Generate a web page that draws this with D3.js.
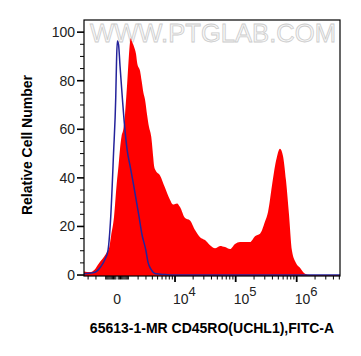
<!DOCTYPE html>
<html>
<head>
<meta charset="utf-8">
<script src="https://cdn.jsdelivr.net/npm/d3@7"></script>
<style>
  body { margin: 0; background: #fff; }
  svg text { font-family: "Liberation Sans", Arial, sans-serif; }
</style>
</head>
<body>
<svg id="chart" width="361" height="356"></svg>
<script>
// stained sample (red, filled) - fluorescence value / relative count
const sampleX = [-3620, -2737, -2231, -1664, -1158, -877, -695, -518, -257, -26, 128, 257, 387, 544, 695, 877,
  1016, 1158, 1226, 1353, 1557, 1769, 1913, 2231, 2420, 2653, 2882, 3160, 3447, 3810, 4134, 4306, 4613,
  5524, 6736, 8215, 9256, 10808, 12130, 14685, 17761, 21487, 25982, 31390, 37921, 45814, 55339, 66906,
  80740, 97524, 117700, 142200, 171700, 207300, 250600, 302500, 338800, 394000, 458100, 532700, 596500,
  667900, 747700, 837000, 973800, 1133800, 1369000, 1653000, 5130000];
const sampleY = [1.5, 1.2, 2, 4.9, 7.5, 9.5, 11, 16, 24, 37.7, 45, 52, 57, 60, 66, 78,
  88, 96, 97.5, 96, 94, 91, 87, 84, 80, 75, 72, 66, 61, 57, 49, 45, 43,
  41, 36, 31, 29, 29.5, 28, 23.5, 22.5, 18.5, 15.6, 14.4, 12.3, 11, 12, 11.5,
  10.7, 12.8, 13.6, 13.6, 13.6, 16, 17, 22, 26, 37, 47, 52, 49,
  39, 25, 10, 5, 3, 0.5, 0, 0];

// isotype control (blue line)
const controlX = [-3620, -2231, -1485, -1063, -785, -544, -300, -111, -43, 26, 128, 257, 457, 606, 904,
  1158, 1485, 1845, 2109, 2445, 2979, 3323, 3759, 4613, 6736, 9256, 5130000];
const controlY = [0.5, 1, 3.4, 6.5, 10.3, 24, 50, 73, 88, 96.4, 95, 86, 73, 64, 51,
  45, 37.7, 29.6, 24, 17, 10.3, 5, 2.4, 0.5, 0.2, 0, 0];

const yTicks = [0, 20, 40, 60, 80, 100];
const xLabels = [{v: 0, base: "0", exp: ""}, {v: 1e4, base: "10", exp: "4"},
  {v: 1e5, base: "10", exp: "5"}, {v: 1e6, base: "10", exp: "6"}];

const svg = d3.select("#chart");
const pl = 84, pr = 340, pt = 20, pb = 276;

// biexponential-like display transform
const W = 1134;
const biex = v => Math.asinh(v / (2 * W)) / Math.LN10;
const xs = d3.scaleLinear().domain([biex(-3620), biex(5130000)]).range([pl, pr]);
const x = v => xs(biex(v));
const y = d3.scaleLinear().domain([-0.4, 105]).range([pb, pt]);

svg.append("clipPath").attr("id", "clip")
  .append("rect").attr("x", pl).attr("y", pt).attr("width", pr - pl).attr("height", pb - pt);

// watermark
svg.append("text")
  .attr("x", 90).attr("y", 42)
  .attr("textLength", 246).attr("lengthAdjust", "spacingAndGlyphs")
  .style("font-size", "25px")
  .attr("fill", "#f8f8f8").attr("stroke", "#cccccc").attr("stroke-width", 0.8)
  .text("WWW.PTGLAB.COM");

const plot = svg.append("g").attr("clip-path", "url(#clip)");

const sample = sampleX.map((d, i) => [d, sampleY[i]]);
const control = controlX.map((d, i) => [d, controlY[i]]);

plot.append("path")
  .datum(sample)
  .attr("fill", "#ff0000")
  .attr("d", d3.area().x(d => x(d[0])).y0(pb).y1(d => y(d[1])).curve(d3.curveMonotoneX));

plot.append("path")
  .datum(control)
  .attr("fill", "none")
  .attr("stroke", "#24239b")
  .attr("stroke-width", 1.5)
  .attr("d", d3.line().x(d => x(d[0])).y(d => y(d[1])).curve(d3.curveMonotoneX));

// frame
svg.append("rect")
  .attr("x", pl).attr("y", pt).attr("width", pr - pl).attr("height", pb - pt)
  .attr("fill", "none").attr("stroke", "#000").attr("stroke-width", 1.2);

// y axis
const yMinor = d3.range(0, 105, 5);
svg.append("g").selectAll("line").data(yMinor).join("line")
  .attr("x1", d => d % 20 === 0 ? pl - 7 : pl - 4).attr("x2", pl)
  .attr("y1", d => y(d)).attr("y2", d => y(d))
  .attr("stroke", "#000").attr("stroke-width", d => d % 20 === 0 ? 1.6 : 1);

svg.append("g").selectAll("text").data(yTicks).join("text")
  .attr("x", 75).attr("y", d => y(d))
  .attr("text-anchor", "end").attr("dominant-baseline", "central")
  .style("font-size", "14px").attr("fill", "#222")
  .text(d => d);

// x axis ticks
const xMinor = [];
[-1, 1].forEach(s => {
  for (let m = 1; m <= 9; m++) xMinor.push(s * m * 100);
  for (let m = 1; m <= (s < 0 ? 3 : 9); m++) xMinor.push(s * m * 1000);
});
[1e4, 1e5].forEach(p => { for (let m = 2; m <= 9; m++) xMinor.push(m * p); });
for (let m = 2; m <= 5; m++) xMinor.push(m * 1e6);
const xMajor = [1e4, 1e5, 1e6];

svg.append("g").selectAll("line").data(xMinor).join("line")
  .attr("x1", d => x(d)).attr("x2", d => x(d))
  .attr("y1", pb).attr("y2", pb + 3.5)
  .attr("stroke", "#000").attr("stroke-width", 1);

svg.append("g").selectAll("line").data(xMajor).join("line")
  .attr("x1", d => x(d)).attr("x2", d => x(d))
  .attr("y1", pb).attr("y2", pb + 6)
  .attr("stroke", "#000").attr("stroke-width", 1.8);

const lbl = svg.append("g").selectAll("text").data(xLabels).join("text")
  .attr("x", d => d.exp ? x(d.v) - 2 : x(d.v))
  .attr("y", 304)
  .attr("text-anchor", d => d.exp ? "start" : "middle")
  .style("font-size", "14px").attr("fill", "#222");
lbl.append("tspan").text(d => d.base);
lbl.append("tspan").attr("dy", -8).style("font-size", "13px").text(d => d.exp);

// axis titles
svg.append("text")
  .attr("transform", "translate(32,145) rotate(-90)")
  .attr("text-anchor", "middle")
  .style("font-size", "14px").style("font-weight", "bold")
  .text("Relative Cell Number");

svg.append("text")
  .attr("x", 212).attr("y", 333)
  .attr("text-anchor", "middle")
  .style("font-size", "14px").style("font-weight", "bold")
  .text("65613-1-MR CD45RO(UCHL1),FITC-A");
</script>
</body>
</html>
